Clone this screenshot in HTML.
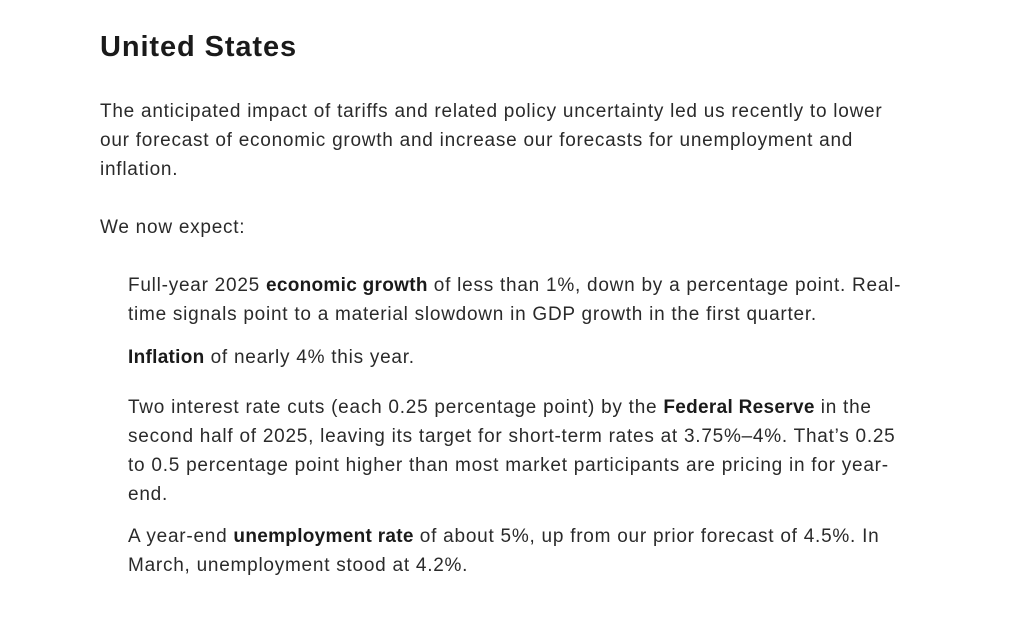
<!DOCTYPE html>
<html><head><meta charset="utf-8"><style>
body{margin:0;width:1024px;height:621px;background:#fff;font-family:"Liberation Sans",sans-serif;color:#222;position:relative;overflow:hidden}
h1{position:absolute;left:100px;top:31px;margin:0;font-size:29px;font-weight:bold;color:#1a1a1a;letter-spacing:0.9px}
.p{position:absolute;left:100px;font-size:19px;line-height:29px;white-space:nowrap;color:#2a2a2a;letter-spacing:0.75px}
.i{left:128px}
b{color:#1a1a1a;letter-spacing:0.3px}
</style></head><body>
<h1>United States</h1>
<div class="p" style="top:97px">The anticipated impact of tariffs and related policy uncertainty led us recently to lower<br>our forecast of economic growth and increase our forecasts for unemployment and<br>inflation.</div>
<div class="p" style="top:213px">We now expect:</div>
<div class="p i" style="top:271px">Full-year 2025 <b>economic growth</b> of less than 1%, down by a percentage point. Real-<br>time signals point to a material slowdown in GDP growth in the first quarter.</div>
<div class="p i" style="top:343px"><b>Inflation</b> of nearly 4% this year.</div>
<div class="p i" style="top:393px">Two interest rate cuts (each 0.25 percentage point) by the <b>Federal Reserve</b> in the<br>second half of 2025, leaving its target for short-term rates at 3.75%–4%. That’s 0.25<br>to 0.5 percentage point higher than most market participants are pricing in for year-<br>end.</div>
<div class="p i" style="top:522px">A year-end <b>unemployment rate</b> of about 5%, up from our prior forecast of 4.5%. In<br>March, unemployment stood at 4.2%.</div>
</body></html>
